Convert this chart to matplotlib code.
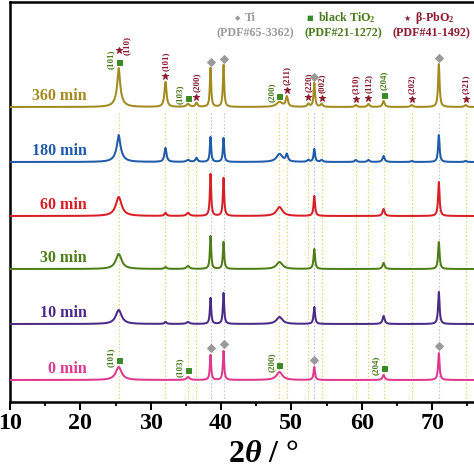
import numpy as np
import matplotlib
matplotlib.use('Agg')
import matplotlib.pyplot as plt

# reflections (2theta, deg)
ti_pos = [38.5, 40.35, 53.25, 70.95]
tio2_pos = [25.45, 35.3, 48.3, 63.1]
tio2_hkl = ['(101)', '(103)', '(200)', '(204)']
pbo2_pos = [25.45, 32.1, 36.5, 49.35, 52.4, 54.3, 59.15, 60.95, 67.1, 74.75]
pbo2_hkl = ['(110)', '(101)', '(200)', '(211)', '(220)', '(002)',
            '(310)', '(112)', '(202)', '(321)']

samples = ['0 min', '10 min', '30 min', '60 min', '180 min', '360 min']
colors = ['#E0378F', '#4B2A87', '#4E7D18', '#D81E26', '#1F5BA8', '#A38A1E']
offsets = [22, 78, 133, 186, 240, 295]

# peak heights (a.u.) per sample, same order as the position lists
ti_heights = [[25, 29, 13, 27], [26, 31, 17, 32], [33, 27, 20, 27],
              [42, 38, 20, 34], [25, 24, 13, 27], [39, 42, 24, 43]]
tio2_heights = [[13, 3, 8, 5], [14, 2, 7, 8], [15, 3, 7, 6],
                [19, 3, 9, 7], [15, 2, 8, 6], [13, 3, 5, 6]]
pbo2_heights = [[0, 0, 0, 0, 0, 0, 0, 0, 0, 0],
                [0, 2, 0, 0, 0, 0, 0, 0, 0, 0],
                [0, 2, 0, 0, 0, 0, 0, 0, 0, 0],
                [0, 3, 0, 0, 0, 0, 0, 0, 0, 0],
                [12, 14, 4, 7, 2, 2, 2, 2, 1, 1],
                [26, 25, 4, 10, 3, 3, 2, 3, 2, 2]]
ti_fwhm = [0.22, 0.22, 0.25, 0.25]
tio2_fwhm = [1.0, 0.5, 1.0, 0.35]
pbo2_fwhm = [0.4, 0.35, 0.35, 0.35, 0.35, 0.35, 0.35, 0.35, 0.35, 0.35]

TI_C = '#9A9A9A'
TIO2_C = '#4A7A1E'
SQ_C = '#3A8A2A'
PBO2_C = '#8B1A2E'

plt.rcParams['font.family'] = ['Liberation Serif', 'DejaVu Sans']
plt.rcParams['font.weight'] = 'bold'
plt.rcParams['mathtext.fontset'] = 'custom'
plt.rcParams['mathtext.rm'] = 'Liberation Serif:bold'
plt.rcParams['mathtext.bf'] = 'Liberation Serif:bold'
plt.rcParams['mathtext.it'] = 'Liberation Serif:italic:bold'


def profile(x, pos, hts, fwhm):
    y = np.zeros_like(x)
    for p, h, w in zip(pos, hts, fwhm):
        y += h / (1 + ((x - p) / (w / 2)) ** 2)
    return y


def top_at(x, y, p):
    m = np.abs(x - p) < 0.2
    return y[m].max()


x = np.linspace(10, 80, 4000)
curves = []
for i in range(len(samples)):
    y = (profile(x, ti_pos, ti_heights[i], ti_fwhm)
         + profile(x, tio2_pos, tio2_heights[i], tio2_fwhm)
         + profile(x, pbo2_pos, pbo2_heights[i], pbo2_fwhm))
    curves.append(y + offsets[i])

W = 474
fig = plt.figure(figsize=(W / 72, W / 72), dpi=72)
ax = fig.add_axes([10 / W, 72 / W, 492.5 / W, 400.5 / W])
ax.set_xlim(10, 80)
ax.set_ylim(0, 400.5)

# guide lines
guide = sorted(set(tio2_pos + pbo2_pos))
ax.vlines(guide, 0, 290, colors='#D9CE6A', linestyles=(0, (1, 2)), lw=1.2, zorder=1)
ax.vlines(ti_pos, 0, 290, colors='#B4B4D2', linestyles=(0, (1, 2)), lw=1.2, zorder=1)

for i, s in enumerate(samples):
    ax.plot(x, curves[i], color=colors[i], lw=2.0, zorder=3)
    ax.text(20.95, offsets[i] + 11, s, color=colors[i], fontsize=16,
            ha='right', va='center', fontweight='bold')

gap = 6


def mark(xp, yp, m, c, ms):
    ax.plot(xp, yp, marker=m, ms=ms, color=c, ls='none', zorder=4, clip_on=False)


def label(txt, xp, yp, c, side):
    if side == 'up':
        off, ha, va = (0, 5), 'center', 'bottom'
    elif side == 'left':
        off, ha, va = (-8, 3), 'center', 'center'
    else:
        off, ha, va = (8, 4), 'center', 'center'
    ax.annotate(txt, (xp, yp), xytext=off, textcoords='offset points',
                rotation=90, ha=ha, va=va, fontsize=9, color=c, fontweight='bold')


# top pattern (360 min)
top = curves[5]
for p in ti_pos:
    mark(p, top_at(x, top, p) + gap, 'D', TI_C, 5)
tio2_side = ['left', 'left', 'left', 'up']
for p, h, sd in zip(tio2_pos, tio2_hkl, tio2_side):
    yp = top_at(x, top, p) + gap
    mark(p, yp, 's', SQ_C, 5)
    label(h, p, yp, TIO2_C, sd)
for j, (p, h) in enumerate(zip(pbo2_pos, pbo2_hkl)):
    yp = top_at(x, top, p) + gap
    if j == 0:
        yp += 12
        mark(p, yp, '*', PBO2_C, 7)
        label(h, p, yp, PBO2_C, 'right')
    else:
        mark(p, yp, '*', PBO2_C, 7)
        label(h, p, yp, PBO2_C, 'up')

# bottom pattern (0 min)
bot = curves[0]
for p in ti_pos:
    mark(p, top_at(x, bot, p) + 7, 'D', TI_C, 5)
for p, h in zip(tio2_pos, tio2_hkl):
    yp = top_at(x, bot, p) + 7
    mark(p, yp, 's', SQ_C, 5)
    label(h, p, yp, TIO2_C, 'left')

# axes styling
for sp in ax.spines.values():
    sp.set_linewidth(2.5)
ax.set_yticks([])
ax.set_xticks(np.arange(10, 71, 10))
ax.set_xticks(np.arange(15, 80, 10), minor=True)
ax.tick_params(axis='x', which='major', direction='out', length=8, width=2,
               labelsize=24, pad=3)
ax.tick_params(axis='x', which='minor', direction='out', length=4, width=1.8)
for t in ax.get_xticklabels():
    t.set_fontweight('bold')
ax.set_xlabel(r'2$\theta$ / °', fontsize=32, fontweight='bold')
ax.xaxis.set_label_coords((263 - 10) / 492.5, -0.095)

# phase key
def ftext(px, py, s, **kw):
    fig.text(px / W, 1 - py / W, s, va='center', fontweight='bold', **kw)


ftext(238, 18, '◆', color=TI_C, fontsize=7, ha='center', family='DejaVu Sans')
ftext(245, 18, 'Ti', color=TI_C, fontsize=12, ha='left')
ftext(255, 33, '(PDF#65-3362)', color=TI_C, fontsize=12, ha='center')
ftext(310, 18, '■', color=SQ_C, fontsize=7, ha='center', family='DejaVu Sans')
ftext(318, 18, r'black TiO$_2$', color=TIO2_C, fontsize=12, ha='left')
ftext(343, 33, '(PDF#21-1272)', color=TIO2_C, fontsize=12, ha='center')
ftext(407, 18, '★', color=PBO2_C, fontsize=8, ha='center', family='DejaVu Sans')
ftext(415, 18, r'β-PbO$_2$', color=PBO2_C, fontsize=12, ha='left')
ftext(431, 33, '(PDF#41-1492)', color=PBO2_C, fontsize=12, ha='center')

fig.savefig('out.png', dpi=72)
